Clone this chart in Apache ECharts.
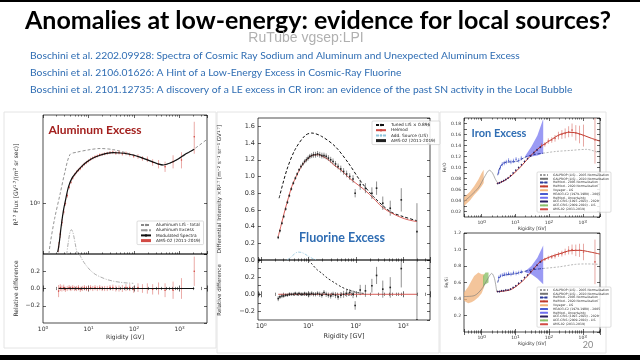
<!DOCTYPE html>
<html><head><meta charset="utf-8">
<script src="https://cdn.jsdelivr.net/npm/echarts@6/dist/echarts.min.js"></script>
<style>html,body{margin:0;padding:0;background:#fff}#c{width:640px;height:360px}</style>
</head><body><div id="c"></div>
<script>
// ================= TEXT =================
const slideTitle = 'Anomalies at low-energy: evidence for local sources?';
const watermark = 'RuTube vgsep:LPI';
const refLines = [
  'Boschini et al. 2202.09928: Spectra of Cosmic Ray Sodium and Aluminum and Unexpected Aluminum Excess',
  'Boschini et al. 2106.01626: A Hint of a Low-Energy Excess in Cosmic-Ray Fluorine',
  'Boschini et al. 2101.12735: A discovery of a LE excess in CR iron: an evidence of the past SN activity in the Local Bubble'
];
const panelLabels = ['Aluminum Excess', 'Fluorine Excess', 'Iron Excess'];
const pageNumber = '20';

// ================= ALUMINUM =================
const alModelR = [2.1,2.25,2.5,2.8,3.2,3.6,4.3,5.5,7,9.1,12,17.9,25,35,50,69,100,135,190,264,350,437,600,870,1300,2100];
const alModelF = [0.66,0.705,0.82,0.94,1.05,1.148,1.24,1.31,1.37,1.425,1.47,1.51,1.535,1.545,1.54,1.53,1.51,1.486,1.455,1.425,1.40,1.39,1.41,1.454,1.52,1.59];
const alLisR = [1.35,1.43,1.8,2.36,3.0,3.92,5.5,10.8,17.9,35,69,135,264,437,870,2000,4000];
const alLisF = [0.65,0.705,0.88,1.08,1.3,1.52,1.55,1.585,1.6,1.585,1.54,1.486,1.425,1.39,1.454,1.585,1.73];
const alExcR = [3.3,3.6,3.9,4.2,4.5,4.8,5.1,5.4,5.8];
const alExcF = [0.645,0.72,0.78,0.80,0.785,0.75,0.71,0.675,0.64];
const alTailR = [6.3,7,8,9.1,11,14,17.9,25,35,50,70,96];
const alTailV = [0.4,0.35,0.30,0.26,0.21,0.165,0.136,0.105,0.085,0.072,0.064,0.06];
const alR = [2.2,2.4,2.6,2.85,3.1,3.4,3.75,4.1,4.5,4.95,5.45,6.0,6.6,7.3,8.1,9.0,10.0,11.1,12.4,13.9,15.6,17.6,19.9,22.6,25.8,29.6,34.2,39.8,46.7,55.3,66.4,80.4,98.4,122,153,196,256,345,480,720,1100,2100];
const alF = [0.69,0.77,0.85,0.93,1.0,1.07,1.15,1.2,1.245,1.28,1.31,1.33,1.35,1.375,1.40,1.42,1.44,1.46,1.475,1.49,1.50,1.515,1.52,1.53,1.535,1.545,1.55,1.54,1.545,1.53,1.535,1.52,1.50,1.495,1.47,1.46,1.42,1.40,1.37,1.43,1.45,1.77];
const alFErr = [0.03,0.025,0.025,0.02,0.02,0.02,0.02,0.02,0.02,0.02,0.02,0.02,0.02,0.02,0.02,0.02,0.02,0.02,0.02,0.02,0.02,0.02,0.02,0.02,0.02,0.02,0.025,0.025,0.025,0.025,0.025,0.025,0.025,0.03,0.03,0.035,0.04,0.05,0.06,0.08,0.1,0.24];
const alRel = [-0.03,0.01,0.0,0.01,-0.01,0.0,0.01,0.0,0.01,0.0,0.0,0.01,-0.01,0.0,0.01,0.0,0.0,0.01,0.0,0.01,0.0,0.01,0.0,0.0,0.0,0.01,0.01,0.0,0.0,0.0,0.01,0.01,-0.01,0.01,0.0,0.0,-0.01,0.0,-0.02,-0.02,0.0,0.2];
const alRelErr = [0.07,0.04,0.035,0.035,0.03,0.03,0.03,0.03,0.03,0.03,0.03,0.03,0.03,0.03,0.03,0.03,0.03,0.03,0.03,0.03,0.03,0.03,0.03,0.03,0.03,0.03,0.035,0.035,0.035,0.04,0.04,0.04,0.04,0.05,0.05,0.06,0.06,0.07,0.08,0.1,0.12,0.17];

// ================= FLUORINE =================
const fModelR = [2.3,2.6,3.2,3.8,4.45,5.3,6.2,7.3,8.5,10,11.8,14,16.3,20,26.4,34,43,55,70,100,124,160,236,350,535,900,1300,1960];
const fModelV = [0.28,0.4,0.6,0.75,0.88,0.98,1.06,1.13,1.18,1.22,1.25,1.26,1.26,1.24,1.2,1.14,1.1,1.05,0.99,0.92,0.88,0.83,0.74,0.64,0.57,0.51,0.48,0.46];
const fLisR = [2.4,3.5,5.2,8.5,11.8,19,36.7,70,124,236,535,1000,1960];
const fLisV = [0.74,1.08,1.32,1.49,1.52,1.48,1.36,1.16,0.95,0.76,0.58,0.52,0.47];
const fAddR = [3.5,4.2,5.0,6.0,7.2,8.5,10,12,15];
const fAddV = [0.0,0.03,0.07,0.095,0.09,0.07,0.045,0.02,0.0];
const fTailR = [10,12,15,19.2,25,36.7,50,70,107,150];
const fTailV = [0.4,0.35,0.29,0.245,0.19,0.13,0.085,0.05,0.02,0.01];
const fR = [2.3,2.5,2.75,3.0,3.3,3.6,3.95,4.35,4.8,5.3,5.8,6.35,6.95,7.6,8.3,9.05,9.85,10.7,11.7,12.8,14.1,15.6,17.3,19.2,21.3,23.7,26.4,29.5,33.1,37.3,42.3,48.2,55.3,64,74.5,87.5,97,124,160,219,275,372,535,915,1960];
const fV = [0.27,0.35,0.44,0.52,0.61,0.69,0.77,0.85,0.92,0.98,1.03,1.08,1.12,1.15,1.18,1.20,1.22,1.24,1.25,1.26,1.26,1.27,1.26,1.25,1.25,1.24,1.22,1.20,1.18,1.15,1.12,1.09,1.06,1.03,1.0,0.97,0.80,0.90,0.86,0.80,0.86,0.68,0.62,0.72,0.34];
const fErr = [0.02,0.02,0.02,0.02,0.02,0.02,0.02,0.02,0.02,0.02,0.02,0.02,0.025,0.025,0.025,0.03,0.03,0.03,0.03,0.035,0.035,0.035,0.035,0.035,0.035,0.035,0.035,0.035,0.035,0.035,0.035,0.04,0.04,0.04,0.04,0.045,0.05,0.06,0.06,0.07,0.08,0.08,0.09,0.14,0.34];
const fRel = [-0.05,-0.03,-0.02,-0.02,-0.01,-0.01,0.0,0.0,0.0,0.01,0.0,0.01,0.0,0.0,0.01,0.0,0.0,0.0,0.01,0.0,0.0,0.01,0.0,-0.01,0.02,0.0,-0.01,-0.02,0.0,-0.01,-0.03,-0.01,0.0,0.01,0.02,0.0,-0.13,0.05,0.04,0.1,0.22,0.06,0.08,0.3,-0.3];
const fRelErr = [0.03,0.025,0.025,0.02,0.02,0.02,0.02,0.02,0.02,0.02,0.02,0.02,0.02,0.02,0.02,0.02,0.02,0.025,0.025,0.025,0.025,0.025,0.03,0.03,0.03,0.03,0.03,0.03,0.03,0.035,0.035,0.035,0.04,0.04,0.04,0.045,0.05,0.06,0.07,0.08,0.1,0.1,0.12,0.22,1.2];

// ================= IRON (Fe/O upper, Fe/Si lower) =================
const feoVoyR = [0.3,0.45,0.6,0.8,1.0,1.15];
const feoVoyLo = [0.03,0.04,0.05,0.058,0.066,0.072];
const feoVoyHi = [0.046,0.056,0.066,0.078,0.09,0.096];
const feoGalR = [0.3,0.5,0.8,1.0,1.3,1.7,2.1,2.5,2.9];
const feoGalV = [0.038,0.05,0.063,0.073,0.086,0.095,0.09,0.08,0.073];
const feoHm05R = [3.0,3.5,4.4,6,10.9,21.6,40,67];
const feoHm05V = [0.086,0.1,0.108,0.11,0.111,0.12,0.124,0.126];
const feoGal05R = [67,150,417,1300,3200];
const feoGal05V = [0.126,0.129,0.131,0.133,0.126];
const feoHm20R = [2.8,4,6.9,13.7,27,54,106,210,417,730,1640,3200];
const feoHm20V = [0.071,0.074,0.083,0.1,0.12,0.137,0.149,0.16,0.164,0.162,0.154,0.148];
const feoFanR = [20,30,45,67];
const feoFanLo = [0.118,0.12,0.122,0.126];
const feoFanHi = [0.122,0.138,0.158,0.188];
const feoHeaoR = [3.2,3.6,4.1,4.7,5.4,6.3,7.4,8.8,10.5,12.6,15];
const feoHeaoV = [0.092,0.1,0.106,0.108,0.11,0.113,0.11,0.112,0.115,0.113,0.117];
const feoAceR = [3,3.4,3.9,4.5,5.2,6.1,7.2,8.6,10.3,12.5,15.2,18.7,23,28.5,35.5,44,55];
const feoAceV = [0.071,0.072,0.074,0.076,0.078,0.081,0.085,0.09,0.095,0.1,0.105,0.111,0.116,0.121,0.127,0.132,0.137];
const feoAmsR = [60,75,95,120,150,190,240,300,380,480,620,800,1050,2300];
const feoAmsV = [0.14,0.142,0.148,0.15,0.153,0.158,0.16,0.162,0.165,0.168,0.163,0.16,0.158,0.15];
const feoAmsErr = [0.004,0.004,0.005,0.005,0.006,0.007,0.008,0.009,0.01,0.012,0.014,0.016,0.02,0.043];

const fesVoyR = [0.3,0.4,0.5,0.6,0.8,1.0,1.2];
const fesVoyLo = [0.38,0.35,0.36,0.38,0.42,0.47,0.55];
const fesVoyHi = [0.48,0.55,0.62,0.68,0.72,0.70,0.70];
const fesGreenR = [1.1,1.3,1.6];
const fesGreenLo = [0.55,0.58,0.6];
const fesGreenHi = [0.68,0.72,0.72];
const fesGalR = [0.3,0.6,1.0,1.4,2.0,2.4,2.8];
const fesGalV = [0.43,0.44,0.52,0.62,0.71,0.65,0.49];
const fesHm05R = [3.0,3.5,5,10.9,27,67];
const fesHm05V = [0.6,0.67,0.69,0.71,0.75,0.77];
const fesGal05R = [67,200,600,1300,3200];
const fesGal05V = [0.77,0.79,0.82,0.825,0.82];
const fesHm20R = [2.8,6.9,13.7,27,54,106,210,417,830,1640,3200];
const fesHm20V = [0.49,0.51,0.59,0.71,0.85,0.91,0.95,0.985,0.99,0.97,0.945];
const fesFanR = [20,30,45,67];
const fesFanLo = [0.72,0.7,0.65,0.58];
const fesFanHi = [0.74,0.8,0.9,1.05];
const fesHeaoR = [3.2,3.6,4.1,4.7,5.4,6.3,7.4,8.8,10.5,12.6,15];
const fesHeaoV = [0.66,0.68,0.69,0.7,0.7,0.71,0.7,0.72,0.71,0.72,0.73];
const fesAceR = [3,3.4,3.9,4.5,5.2,6.1,7.2,8.6,10.3,12.5,15.2,18.7,23,28.5,35.5,44,55];
const fesAceV = [0.49,0.49,0.5,0.5,0.51,0.51,0.52,0.54,0.56,0.59,0.62,0.66,0.69,0.73,0.77,0.81,0.85];
const fesAmsR = [60,75,95,120,150,190,240,300,380,480,620,800,1050,2300];
const fesAmsV = [0.86,0.88,0.9,0.91,0.92,0.94,0.95,0.97,0.99,1.0,0.99,0.99,0.97,0.85];
const fesAmsErr = [0.02,0.02,0.025,0.025,0.03,0.03,0.035,0.04,0.05,0.06,0.07,0.08,0.1,0.27];

const ironNames = ['GALPROP (LIS) - 2005 Normalization','GALPROP (LIS) - 2020 Normalization','HelMod - 2005 Normalization','HelMod - 2020 Normalization','Voyager - LIS','HEAO3-C2 (1979-1980) - 2005','HelMod - Uncertainty','ACE-CRIS (1997-2020) - 2020','ACE-CRIS (2009-2010) - LIS','AMS-02 (2011-2019)'];

// ================= BUILD =================
const TICK_FONT = 'DejaVu Sans';
const G = [
  {left:43, top:115, width:164, height:139},
  {left:43, top:254, width:164, height:69},
  {left:258, top:118, width:172, height:142},
  {left:258, top:260, width:172, height:60},
  {left:464, top:118, width:136, height:99},
  {left:464, top:233, width:136, height:99}
];
const sup = {s:{fontSize:4.2, verticalAlign:'top', fontFamily:TICK_FONT, color:'#333'}};
function powLabel(v){
  const l = Math.log10(v), n = Math.round(l);
  if (Math.abs(l-n) > 1e-6) return '';
  return '10{s|' + (n<0?'\u2212'+(-n):n) + '}';
}
function xAx(gi, min, max, show, fs, name, gap, top){
  return {type:'log', logBase:10, gridIndex:gi, min, max, position: top?'top':'bottom',
    axisLine:{show:false}, splitLine:{show:false},
    axisTick:{show:true, inside:true, length:3, lineStyle:{color:'#000', width:0.6}},
    minorTick:{show:true, splitNumber:9, length:1.6, lineStyle:{color:'#000', width:0.5}},
    axisLabel:{show:show && !top, showMinLabel:true, showMaxLabel:true, fontSize:fs, fontFamily:TICK_FONT, color:'#333', margin:3, formatter:powLabel, rich:sup},
    name: top?'':name, nameLocation:'middle', nameGap:gap, nameTextStyle:{fontSize:fs, fontFamily:TICK_FONT, color:'#333'}};
}
function yAx(gi, o, right){
  const a = {type:o.type||'value', gridIndex:gi, min:o.min, max:o.max, position:right?'right':'left',
    axisLine:{show:false}, splitLine:{show:false},
    axisTick:{show:true, inside:true, length:3, lineStyle:{color:'#000', width:0.6}},
    axisLabel:{show:!right, showMinLabel:!!o.showMin, showMaxLabel:!!o.showMax, fontSize:o.fs, fontFamily:TICK_FONT, color:'#333', margin:3, formatter:o.fmt, rich:sup},
    name: right?'':(o.name||''), nameLocation:'middle', nameGap:o.gap||20, nameRotate:90,
    nameTextStyle:{fontSize:o.nfs||o.fs, fontFamily:TICK_FONT, color:'#333', rich:{s:{fontSize:(o.nfs||o.fs)*0.7, verticalAlign:'top', fontFamily:TICK_FONT, color:'#333'}}}};
  if (o.interval != null) a.interval = o.interval;
  if (o.type === 'log') a.logBase = 10;
  return a;
}
const fx1 = v => Math.abs(v) < 1e-9 ? '0.0' : (v<0?'\u2212':'') + Math.abs(v).toFixed(1);
const fEven1 = v => (Math.round(v*10) % 2 === 0) ? fx1(v) : '';
const fEven2 = v => (Math.round(v*100) % 2 === 0) ? v.toFixed(2) : '';

const xAxes = [
  xAx(0,1,4000,false,6,'',0), xAx(1,1,4000,true,6,'Rigidity [GV]',11),
  xAx(2,0.86,3700,false,6.5,'',0), xAx(3,0.86,3700,true,6.5,'Rigidity [GV]',13),
  xAx(4,0.3,3240,true,4.5,'Rigidity [GV]',8), xAx(5,0.3,3240,true,4.5,'Rigidity [GV]',8)
];
for (let i=0;i<6;i++){ const b = xAxes[i]; xAxes.push(xAx(i,b.min,b.max,false,6,'',0,true)); }
const yOpts = [
  {type:'log', min:0.65, max:2.13, fs:6, fmt:powLabel, name:'R{s|2.7} Flux [GV{s|1.7}/(m{s|2} sr sec)]', gap:24, nfs:6},
  {min:-0.4, max:0.4, interval:0.2, fs:6, fmt:fx1, name:'Relative difference', gap:24, nfs:6},
  {min:0, max:1.7, interval:0.2, fs:6.5, fmt:fx1, showMin:true, name:'Differential Intensity \u00d7R{s|2.7} [m{s|\u22122} s{s|\u22121} sr{s|\u22121} GV{s|1.7}]', gap:35, nfs:5.5},
  {min:-0.3, max:0.4, interval:0.1, fs:6.5, fmt:fEven1, name:'Relative difference', gap:35, nfs:5.5},
  {min:0.01, max:0.19, interval:0.01, fs:4.5, fmt:fEven2, name:'Fe/O', gap:17, nfs:4.5},
  {min:0, max:1.2, interval:0.2, fs:4.5, fmt:fx1, showMax:true, name:'Fe/Si', gap:15, nfs:4.5}
];
const yAxes = yOpts.map((o,i)=>yAx(i,o,false)).concat(yOpts.map((o,i)=>yAx(i,o,true)));

const pairs = (R,V) => R.map((r,i)=>[r,V[i]]);
function ln(name,R,V,ai,color,width,type,extra){
  return Object.assign({type:'line', name, xAxisIndex:ai, yAxisIndex:ai, data:pairs(R,V), showSymbol:false, symbol:'none', smooth:0.3,
    lineStyle:{color, width, type:type||'solid'}, itemStyle:{color}, z:3, silent:true, animation:false, clip:true}, extra||{});
}
function errs(name,R,V,E,ai,color,o){
  o = o||{};
  return {type:'custom', name, xAxisIndex:ai, yAxisIndex:ai, itemStyle:{color}, z:o.z||5, silent:true, animation:false, clip:true,
    data: R.map((r,i)=>[r, V[i], V[i]-E[i], V[i]+E[i]]),
    renderItem:(p,api)=>{
      const cs = p.coordSys, top = cs.y, bot = cs.y + cs.height;
      const cl = y => isFinite(y) ? Math.max(top, Math.min(bot, y)) : bot;
      const c = api.coord([api.value(0), api.value(1)]);
      const a = api.coord([api.value(0), api.value(2)]);
      const b = api.coord([api.value(0), api.value(3)]);
      const ch = [{type:'line', shape:{x1:c[0], y1:cl(a[1]), x2:c[0], y2:cl(b[1])}, style:{stroke:color, lineWidth:o.lw||0.6, opacity:o.op||1}}];
      const r = o.r||0.9;
      if (c[1] >= top && c[1] <= bot) ch.push(o.sq
        ? {type:'rect', shape:{x:c[0]-r, y:c[1]-r, width:2*r, height:2*r}, style:{fill:color}}
        : {type:'circle', shape:{cx:c[0], cy:c[1], r}, style:{fill:color}});
      return {type:'group', children:ch};
    }};
}
function band(name,R,LO,HI,ai,color,op){
  return {type:'custom', name, xAxisIndex:ai, yAxisIndex:ai, itemStyle:{color}, z:2, silent:true, animation:false, clip:true,
    data: R.map((r,i)=>[r, LO[i], HI[i]]),
    renderItem:(p,api)=>{
      if (p.dataIndexInside !== 0) return null;
      const n = p.dataInsideLength, up = [], dn = [];
      for (let i=0;i<n;i++){
        up.push(api.coord([api.value(0,i), api.value(2,i)]));
        dn.push(api.coord([api.value(0,i), api.value(1,i)]));
      }
      return {type:'polygon', shape:{points: up.concat(dn.reverse())}, style:{fill:color, opacity:op}};
    }};
}

const RED = '#d24b45', DK = '#111';
const series = [
  ln('Aluminum LIS - total', alLisR, alLisF, 0, '#888', 0.9, [3,2]),
  ln('Aluminum Excess', alExcR, alExcF, 0, '#999', 0.8, [4,1.5,1,1.5]),
  errs('AMS-02 (2011-2019)', alR, alF, alFErr, 0, RED, {r:0.8, op:0.8}),
  ln('Modulated Spectra', alModelR, alModelF, 0, DK, 1.2, 'solid', {z:6}),
  ln('Aluminum Excess', alTailR, alTailV, 1, '#999', 0.8, [4,1.5,1,1.5]),
  errs('AMS-02 (2011-2019)', alR, alRel, alRelErr, 1, RED, {r:0.8, op:0.8}),
  ln('Modulated Spectra', [alR[0], alR[alR.length-1]], [0,0], 1, DK, 1.0, 'solid', {smooth:false, z:6}),
  ln('Tuned LIS \u00d7 0.896', fLisR, fLisV, 2, DK, 1.0, [3,2]),
  ln('Helmod', fModelR, fModelV, 2, RED, 0.9),
  ln('Add. Source (LIS)', fAddR, fAddV, 2, '#8fc3da', 0.8, [3,1.5,1,1.5]),
  errs('AMS-02 (2011-2019) ', fR, fV, fErr, 2, '#222', {r:0.8, lw:0.5, sq:true}),
  ln('Tuned LIS \u00d7 0.896', fTailR, fTailV, 3, DK, 0.9, [2,2]),
  ln('Helmod', [fR[0], fR[fR.length-1]], [0,0], 3, RED, 0.9, 'solid', {smooth:false}),
  errs('AMS-02 (2011-2019) ', fR, fRel, fRelErr, 3, '#222', {r:0.8, lw:0.5, sq:true}),
];
function ironSet(ai, d){
  return [
    band(ironNames[4], d.voyR, d.voyLo, d.voyHi, ai, '#f0b27a', 0.75),
    ln(ironNames[1], d.galR, d.galV, ai, '#777', 0.6),
    ln(ironNames[0], d.gal05R, d.gal05V, ai, '#999', 0.7, [2,1.5]),
    band(ironNames[6], d.fanR, d.fanLo, d.fanHi, ai, '#6f6ff0', 0.7),
    ln(ironNames[2], d.hm05R, d.hm05V, ai, '#2d3d9c', 1.0, [3,1.5]),
    ln(ironNames[3], d.hm20R, d.hm20V, ai, '#c0392b', 1.0),
    errs(ironNames[5], d.heaoR, d.heaoV, d.heaoR.map(()=>0.004*(d.scale)), ai, '#4a5bd0', {r:0.7, lw:0.5}),
    errs(ironNames[7], d.aceR, d.aceV, d.aceR.map(()=>0.002*(d.scale)), ai, '#2a1f5e', {r:0.8, lw:0.5}),
    errs(ironNames[9], d.amsR, d.amsV, d.amsErr, ai, '#d0524a', {r:0.8, lw:0.6, op:0.85}),
  ].concat(d.green ? [band(ironNames[8], d.green[0], d.green[1], d.green[2], ai, '#8cc06a', 0.8)] : [ln(ironNames[8], [], [], ai, '#8cc06a', 0.8)]);
}
series.push(...ironSet(4, {voyR:feoVoyR,voyLo:feoVoyLo,voyHi:feoVoyHi,galR:feoGalR,galV:feoGalV,gal05R:feoGal05R,gal05V:feoGal05V,fanR:feoFanR,fanLo:feoFanLo,fanHi:feoFanHi,hm05R:feoHm05R,hm05V:feoHm05V,hm20R:feoHm20R,hm20V:feoHm20V,heaoR:feoHeaoR,heaoV:feoHeaoV,aceR:feoAceR,aceV:feoAceV,amsR:feoAmsR,amsV:feoAmsV,amsErr:feoAmsErr,scale:1}));
series.push(...ironSet(5, {voyR:fesVoyR,voyLo:fesVoyLo,voyHi:fesVoyHi,galR:fesGalR,galV:fesGalV,gal05R:fesGal05R,gal05V:fesGal05V,fanR:fesFanR,fanLo:fesFanLo,fanHi:fesFanHi,hm05R:fesHm05R,hm05V:fesHm05V,hm20R:fesHm20R,hm20V:fesHm20V,heaoR:fesHeaoR,heaoV:fesHeaoV,aceR:fesAceR,aceV:fesAceV,amsR:fesAmsR,amsV:fesAmsV,amsErr:fesAmsErr,scale:6,green:[fesGreenR,fesGreenLo,fesGreenHi]}));

const legBase = {orient:'vertical', selectedMode:false, itemGap:1.2, padding:[2,3], borderColor:'#bbb', borderWidth:0.5, borderRadius:1, backgroundColor:'rgba(255,255,255,0.85)'};
const legends = [
  Object.assign({}, legBase, {left:137, top:221, itemWidth:10, itemHeight:3, textStyle:{fontSize:4.3, fontFamily:TICK_FONT, color:'#222'},
    data:['Aluminum LIS - total','Aluminum Excess','Modulated Spectra',{name:'AMS-02 (2011-2019)', icon:'rect'}]}),
  Object.assign({}, legBase, {left:372, top:121, itemWidth:10, itemHeight:3, textStyle:{fontSize:4.3, fontFamily:TICK_FONT, color:'#222'},
    data:['Tuned LIS \u00d7 0.896','Helmod','Add. Source (LIS)',{name:'AMS-02 (2011-2019) ', icon:'rect'}]}),
  Object.assign({}, legBase, {left:537, top:172, itemWidth:8, itemHeight:2, itemGap:0.8, padding:[1.5,2], textStyle:{fontSize:3.1, fontFamily:TICK_FONT, color:'#333'}, data:ironNames}),
  Object.assign({}, legBase, {left:537, top:287, itemWidth:8, itemHeight:2, itemGap:0.8, padding:[1.5,2], textStyle:{fontSize:3.1, fontFamily:TICK_FONT, color:'#333'}, data:ironNames})
];

const graphic = [
  {type:'rect', shape:{x:0,y:0,width:640,height:2}, style:{fill:'#000'}, z:-10},
  {type:'rect', shape:{x:0,y:355,width:640,height:5}, style:{fill:'#000'}, z:-10},
  {type:'rect', shape:{x:4,y:112,width:212,height:236}, style:{fill:'#fff', stroke:'#e4e4e4', lineWidth:1}, z:-10},
  {type:'rect', shape:{x:217,y:112,width:222,height:241}, style:{fill:'#fff', stroke:'#e4e4e4', lineWidth:1}, z:-10},
  {type:'rect', shape:{x:440,y:112,width:166,height:241}, style:{fill:'#fff', stroke:'#e4e4e4', lineWidth:1}, z:-10},
  {type:'text', x:318, y:21, style:{text:slideTitle, font:'bold 25px Lato', fill:'#000', align:'center', verticalAlign:'middle'}, z:10},
  {type:'text', x:306, y:38, style:{text:watermark, font:'14px "Liberation Sans"', fill:'rgba(150,150,150,0.75)', align:'center', verticalAlign:'middle'}, z:11},
  {type:'text', x:30, y:56, style:{text:refLines[0], font:'10.3px Lato', fill:'#2f6db3', verticalAlign:'middle'}, z:10},
  {type:'text', x:30, y:73, style:{text:refLines[1], font:'10.3px Lato', fill:'#2f6db3', verticalAlign:'middle'}, z:10},
  {type:'text', x:30, y:90, style:{text:refLines[2], font:'10.3px Lato', fill:'#2f6db3', verticalAlign:'middle'}, z:10},
  {type:'text', x:95, y:130, style:{text:panelLabels[0], font:'bold 12px Lato', fill:'#a3201e', align:'center', verticalAlign:'middle'}, z:10},
  {type:'text', x:342, y:238, style:{text:panelLabels[1], font:'bold 12.5px Lato', fill:'#2f6db3', align:'center', verticalAlign:'middle'}, z:10},
  {type:'text', x:499, y:133, style:{text:panelLabels[2], font:'bold 11px Lato', fill:'#2f6db3', align:'center', verticalAlign:'middle'}, z:10},
  {type:'text', x:588, y:345, style:{text:pageNumber, font:'9px Lato', fill:'#888', align:'center', verticalAlign:'middle'}, z:10}
];

const chart = echarts.init(document.getElementById('c'), null, {renderer:'canvas'});
chart.setOption({
  animation:false,
  backgroundColor:'#fff',
  grid: G.map(g => Object.assign({show:true, borderColor:'#000', borderWidth:0.7, backgroundColor:'transparent', containLabel:false}, g)),
  xAxis: xAxes, yAxis: yAxes, series, legend: legends, graphic
});
</script></body></html>
